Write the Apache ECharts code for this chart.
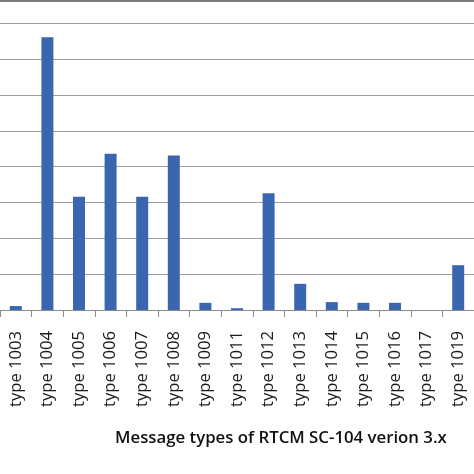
<!DOCTYPE html>
<html>
<head>
<meta charset="utf-8">
<script src="https://cdn.jsdelivr.net/npm/echarts@6/dist/echarts.min.js"></script>
<style>
html,body{margin:0;padding:0;background:#fff;}
#chart{width:474px;height:474px;}
</style>
</head>
<body>
<div id="chart"></div>
<script>
const categories = ['type 1003','type 1004','type 1005','type 1006','type 1007','type 1008','type 1009','type 1011','type 1012','type 1013','type 1014','type 1015','type 1016','type 1017','type 1019'];
const messageCounts = [0.11, 7.61, 3.16, 4.36, 3.16, 4.31, 0.2, 0.05, 3.26, 0.73, 0.22, 0.2, 0.2, 0, 1.25];
const axisTitle = 'Message types of RTCM SC-104 verion 3.x';

const chart = echarts.init(document.getElementById('chart'), null, {renderer: 'canvas'});
chart.setOption({
  animation: false,
  backgroundColor: '#ffffff',
  title: {
    text: axisTitle,
    left: 110,
    top: 425,
    textStyle: {fontFamily: 'Open Sans', fontWeight: 600, fontSize: 16.8, color: '#111111'}
  },
  graphic: [{
    type: 'line',
    shape: {x1: 0, y1: 1, x2: 474, y2: 1},
    style: {stroke: '#7a7a7a', lineWidth: 2}
  }],
  grid: {left: -8.5, right: -5, top: 23.3, bottom: 164, containLabel: false},
  xAxis: {
    type: 'category',
    data: categories,
    axisLine: {show: true, lineStyle: {color: '#8c8c8c', width: 1}},
    axisTick: {show: true, length: 7, lineStyle: {color: '#8c8c8c'}},
    axisLabel: {rotate: 90, margin: 21, fontFamily: 'Open Sans', fontSize: 16.6, color: '#1a1a1a', interval: 0}
  },
  yAxis: {
    type: 'value',
    min: 0,
    max: 8,
    interval: 1,
    axisLine: {show: false},
    axisTick: {show: false},
    axisLabel: {show: false},
    splitLine: {lineStyle: {color: '#a0a0a0', width: 1}}
  },
  series: [{
    type: 'bar',
    data: messageCounts,
    barWidth: 12,
    itemStyle: {color: '#3a66b0'}
  }]
});
</script>
</body>
</html>
